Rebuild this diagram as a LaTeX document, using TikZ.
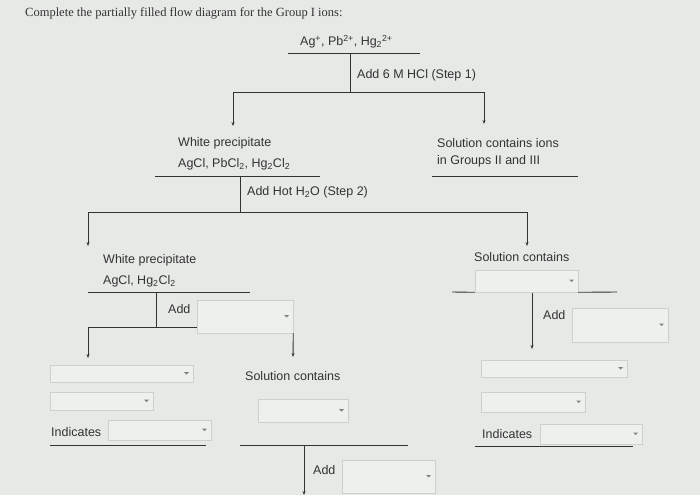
\documentclass[tikz,border=0pt]{standalone}
\usepackage{fontspec}
\setmainfont{Liberation Sans}
\newfontfamily\titlefont{Liberation Serif}
\usetikzlibrary{arrows.meta}
\definecolor{bg}{HTML}{E6E9E6}
\definecolor{ink}{HTML}{333333}
\definecolor{boxfill}{HTML}{EEF0EE}
\definecolor{boxline}{HTML}{CDD0CD}
\tikzset{
  txt/.style={anchor=west,inner sep=0pt,text=ink,font=\fontsize{12.5}{13}\selectfont},
  ln/.style={draw=ink,line width=0.9pt},
  arr/.style={ln,-{Stealth[length=4pt,width=3pt]}},
  dd/.style={draw=boxline,fill=boxfill,inner sep=0pt,line width=0.6pt,
    path picture={\fill[gray] ([xshift=-9pt,yshift=1.5pt]path picture bounding box.east) -- ++(5pt,0) -- ++(-2.5pt,-2.5pt) -- cycle;}},
}
\newcommand{\ddbox}[5]{\node[dd,minimum width=#4pt,minimum height=#5pt] (#1) at (#2+#4/2,#3+#5/2) {};}
\begin{document}
\begin{tikzpicture}[x=1pt,y=-1pt]
\fill[bg] (0,0) rectangle (700,495);
\useasboundingbox (0,0) rectangle (700,495);
\node[anchor=west,inner sep=0pt,text=ink,font=\titlefont\fontsize{12.5}{13}\selectfont] (title) at (25,13) {Complete the partially filled flow diagram for the Group I ions:};
% top
\node[txt] (ions) at (300,42) {Ag\textsuperscript{+}, Pb\textsuperscript{2+}, Hg\textsubscript{2}\textsuperscript{2+}};
\coordinate (l1a) at (288,53); \coordinate (l1b) at (420,53);
\draw[ln] (l1a) -- (l1b);
\coordinate (v1) at (350,53); \coordinate (v1b) at (350,92);
\draw[ln] (v1) -- (v1b);
\node[txt] (s1) at (357,75) {Add 6 M HCl (Step 1)};
\coordinate (h1a) at (233,92); \coordinate (h1b) at (484,92);
\draw[ln] (h1a) -- (h1b);
\coordinate (t1a) at (233,126); \coordinate (t1b) at (484,124);
\draw[arr] (h1a) -- (t1a);
\draw[arr] (h1b) -- (t1b);
% level 2
\node[txt] (wp1) at (178,143) {White precipitate};
\node[txt] (wp1b) at (178,164) {AgCl, PbCl\textsubscript{2}, Hg\textsubscript{2}Cl\textsubscript{2}};
\coordinate (l2a) at (155,176); \coordinate (l2b) at (320,176);
\draw[ln] (l2a) -- (l2b);
\node[txt] (sc1) at (437,143) {Solution contains ions};
\node[txt] (sc1b) at (437,161) {in Groups II and III};
\coordinate (l3a) at (432,176); \coordinate (l3b) at (578,176);
\draw[ln] (l3a) -- (l3b);
\coordinate (v2) at (240,176); \coordinate (v2b) at (240,212);
\draw[ln] (v2) -- (v2b);
\node[txt] (s2) at (247,192) {Add Hot H\textsubscript{2}O (Step 2)};
\coordinate (h2a) at (88,212); \coordinate (h2b) at (527,212);
\draw[ln] (h2a) -- (h2b);
\coordinate (t2a) at (88,246); \coordinate (t2b) at (527,246);
\draw[arr] (h2a) -- (t2a);
\draw[arr] (h2b) -- (t2b);
% level 3 left
\node[txt] (wp2) at (103,260) {White precipitate};
\node[txt] (wp2b) at (103,281) {AgCl, Hg\textsubscript{2}Cl\textsubscript{2}};
\coordinate (l4a) at (88,292); \coordinate (l4b) at (250,292);
\draw[ln] (l4a) -- (l4b);
\coordinate (v3) at (156,292); \coordinate (v3b) at (156,327);
\draw[ln] (v3) -- (v3b);
\node[txt] (add1) at (168,309) {Add};
\ddbox{d1}{197}{300}{96}{33}
\coordinate (h3a) at (88,327);
\draw[ln] (h3a) -- (d1.west|-h3a);
\coordinate (t3a) at (88,358);
\draw[arr] (h3a) -- (t3a);
\coordinate (t3b) at (293,357);
\draw[arr] (d1.south east) -- (t3b);
\ddbox{d2}{50}{365}{143}{17}
\ddbox{d3}{50}{392}{103}{18}
\node[txt] (ind1) at (51,432) {Indicates};
\ddbox{d4}{108}{420}{103}{20}
\coordinate (l5a) at (50,445); \coordinate (l5b) at (206,445);
\draw[ln] (l5a) -- (l5b);
\node[txt] (sc2) at (245,376) {Solution contains};
\ddbox{d5}{258}{399}{90}{23}
\coordinate (l6a) at (240,445); \coordinate (l6b) at (408,445);
\draw[ln] (l6a) -- (l6b);
\coordinate (v4) at (304,445); \coordinate (v4b) at (304,495);
\draw[arr] (v4) -- (v4b);
\node[txt] (add2) at (313,470) {Add};
\ddbox{d6}{342}{460}{93}{33}
% right
\node[txt] (sc3) at (474,257) {Solution contains};
\ddbox{d7}{475}{270}{103}{22}
\coordinate (l7a) at (452,292); \coordinate (l7b) at (617,292);
\draw[ln] (l7a) -- (d7.south west);
\draw[ln] (d7.south east) -- (l7b);
\coordinate (v5) at (532,293); \coordinate (v5b) at (532,349);
\draw[arr] (v5) -- (v5b);
\node[txt] (add3) at (543,315) {Add};
\ddbox{d8}{572}{308}{96}{34}
\ddbox{d9}{481}{360}{146}{17}
\ddbox{d10}{481}{392}{104}{20}
\node[txt] (ind2) at (482,434) {Indicates};
\ddbox{d11}{540}{424}{102}{20}
\coordinate (l8a) at (475,446); \coordinate (l8b) at (633,446);
\draw[ln] (l8a) -- (l8b);
\end{tikzpicture}
\end{document}
